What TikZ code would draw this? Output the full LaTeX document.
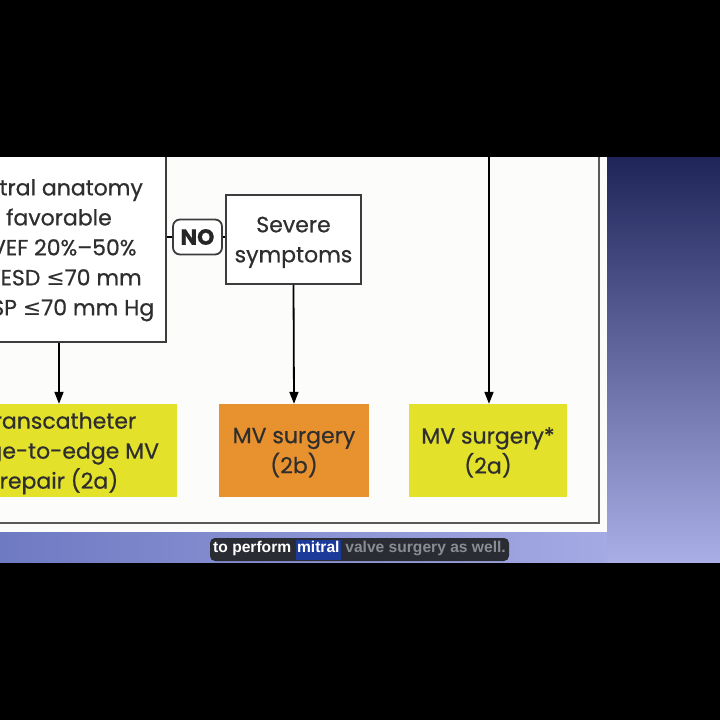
\documentclass[tikz,border=0pt]{standalone}
\usepackage{fontspec}
\setmainfont{Poppins}[FakeBold=0.6]
\newfontfamily\subfont{Liberation Sans}
\newfontfamily\symfont{DejaVu Sans}
\usetikzlibrary{arrows.meta, positioning}
\definecolor{panelbg}{HTML}{FCFCFA}
\definecolor{frameline}{HTML}{5A5A5A}
\definecolor{boxline}{HTML}{3C3C3C}
\definecolor{recyellow}{HTML}{E3E12A}
\definecolor{recorange}{HTML}{E8912F}
\definecolor{navytop}{HTML}{1F2559}
\definecolor{lavbot}{HTML}{A9AEE6}
\definecolor{stripleft}{HTML}{6E7AC2}
\definecolor{capbg}{HTML}{2A2C33}
\definecolor{caphl}{HTML}{1B3A9A}
\definecolor{capgrey}{HTML}{8A8C94}
\newcommand{\lteq}{{\symfont ≤}}
\newcommand{\capmark}[1]{{\setlength{\fboxsep}{1.5pt}\colorbox{caphl}{\strut #1}}}

\begin{document}
\begin{tikzpicture}[x=1pt, y=-1pt,
    txt/.style={font=\fontsize{22}{30}\selectfont, text=black!82, align=center, text depth=-2pt},
    plainbox/.style={txt, draw=boxline, line width=1.8pt, fill=white, inner sep=0pt},
    recbox/.style={txt, fill=#1, inner sep=0pt, minimum height=93pt},
    link/.style={line width=1.8pt, -{Triangle[length=12pt, width=9pt]}}
  ]
  % slide background
  \fill[black] (0,0) rectangle (720,720);
  \shade[top color=navytop, bottom color=lavbot] (607,157) rectangle (720,562);
  \shade[left color=stripleft, right color=lavbot!92!stripleft] (0,532) rectangle (607,562);
  \fill[panelbg] (0,157) rectangle (607,532);

  \begin{scope}
    \clip (0,157) rectangle (607,532);
    \draw[frameline, line width=2pt] (0,523) -| (599,150);

    % question boxes
    \node[plainbox, minimum width=214pt, minimum height=190pt] (anatomy) at (59,247)
      {Mitral anatomy\\ favorable\\ LVEF 20\%--50\%\\ LVESD \lteq70 mm\\ PASP \lteq70 mm Hg};
    \node[plainbox, minimum width=135pt, minimum height=89pt] (severe) at (293.5,239.5)
      {Severe\\ symptoms};
    \node[draw=boxline, line width=1.8pt, rounded corners=7pt, fill=white, inner sep=0pt,
      minimum width=49pt, minimum height=35pt, font=\bfseries\fontsize{22}{24}\selectfont,
      text=black!85] (no) at (197.5,237) {NO};

    % recommendations
    \node[recbox=recyellow, minimum width=236pt] (teer) at (59,450.5)
      {Transcatheter\\ edge-to-edge MV\\ repair (2a)};
    \node[recbox=recorange, minimum width=150pt] (surg2b) at (294,450.5)
      {MV surgery\\ (2b)};
    \node[recbox=recyellow, minimum width=158pt] (surg2a) at (488,450.5)
      {MV surgery*\\ (2a)};

    % connectors
    \coordinate (topin) at (489,150);
    \draw[line width=1.8pt] (no.west) -- (no.west -| anatomy.east);
    \draw[line width=1.8pt] (no.east) -- (no.east -| severe.west);
    \draw[link] (anatomy.south) -- (teer.north);
    \draw[link] (severe.south) -- (surg2b.north);
    \draw[link] (topin) -- (topin |- surg2a.north);
  \end{scope}

  % caption
  \node[fill=capbg, rounded corners=5pt, inner sep=0pt, minimum width=299pt, minimum height=23pt,
    font=\subfont\bfseries\fontsize{15.6}{17}\selectfont, text=white] (caption) at (359.5,549.5)
    {to perform \capmark{mitral} \textcolor{capgrey}{valve surgery as well.}};
\end{tikzpicture}
\end{document}
